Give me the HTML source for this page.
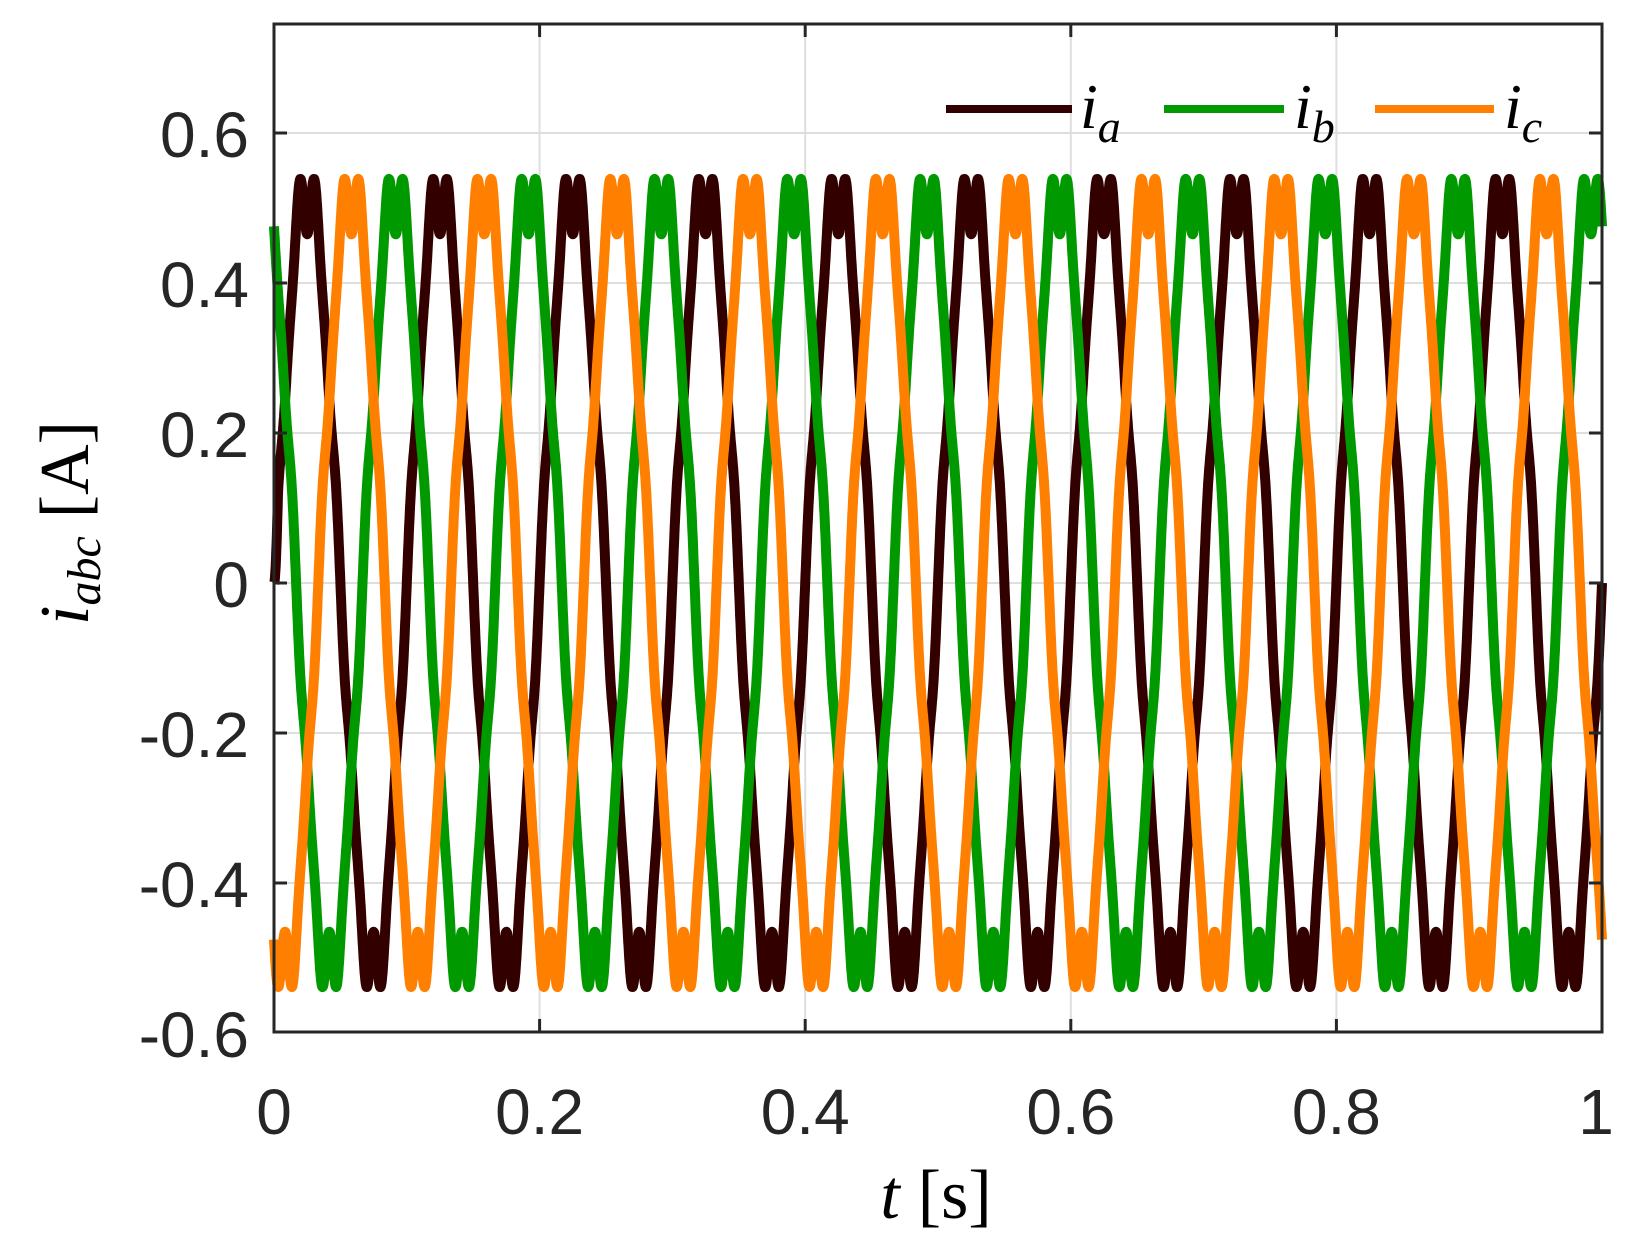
<!DOCTYPE html>
<html><head><meta charset="utf-8"><style>
body{margin:0;background:#fff}
svg{display:block}
.t{font-family:"Liberation Sans",sans-serif;font-size:64px;fill:#262626}
.m{font-family:"Liberation Serif",serif;font-style:italic;fill:#000}
.r{font-family:"Liberation Serif",serif;fill:#000}
</style></head><body>
<svg id="s" width="1631" height="1244" viewBox="0 0 1631 1244" xmlns="http://www.w3.org/2000/svg">
<g stroke="#dedede" stroke-width="2">
<line x1="539.6" y1="24" x2="539.6" y2="1033"/><line x1="805.2" y1="24" x2="805.2" y2="1033"/>
<line x1="1070.8" y1="24" x2="1070.8" y2="1033"/><line x1="1336.4" y1="24" x2="1336.4" y2="1033"/>
<line x1="274" y1="133" x2="1602" y2="133"/><line x1="274" y1="283" x2="1602" y2="283"/>
<line x1="274" y1="433" x2="1602" y2="433"/><line x1="274" y1="583" x2="1602" y2="583"/>
<line x1="274" y1="733" x2="1602" y2="733"/><line x1="274" y1="883" x2="1602" y2="883"/>
</g>
<g id="curves" fill="none" stroke-width="10" stroke-linejoin="round"></g>
<g stroke="#262626" stroke-width="3" fill="none">
<rect x="274" y="24" width="1328" height="1008"/>
</g>
<g stroke="#262626" stroke-width="3" id="ticks"></g>
<g class="t" text-anchor="end">
<text x="249" y="157">0.6</text><text x="249" y="307">0.4</text><text x="249" y="457">0.2</text>
<text x="249" y="607">0</text><text x="249" y="757">-0.2</text><text x="249" y="907">-0.4</text><text x="249" y="1057">-0.6</text>
</g>
<g class="t" text-anchor="middle">
<text x="274" y="1134">0</text><text x="539.6" y="1134">0.2</text><text x="805.2" y="1134">0.4</text>
<text x="1070.8" y="1134">0.6</text><text x="1336.4" y="1134">0.8</text><text x="1596" y="1134">1</text>
</g>
<text x="936" y="1218" text-anchor="middle" font-size="70"><tspan class="m">t</tspan><tspan class="r" dx="18">[s]</tspan></text>
<text transform="translate(88,523) rotate(-90)" text-anchor="middle" font-size="70"><tspan class="m">i</tspan><tspan class="m" font-size="48" dy="12">abc</tspan><tspan class="r" dy="-12" dx="18">[A]</tspan></text>
<g stroke-width="8">
<line x1="946" y1="109" x2="1072" y2="109" stroke="#330000"/>
<line x1="1164" y1="109" x2="1284" y2="109" stroke="#009900"/>
<line x1="1375" y1="109" x2="1494" y2="109" stroke="#ff8000"/>
</g>
<text class="m" x="1080" y="128" font-size="64">i<tspan font-size="46" dy="14">a</tspan></text>
<text class="m" x="1294" y="128" font-size="64">i<tspan font-size="46" dy="14">b</tspan></text>
<text class="m" x="1504" y="128" font-size="64">i<tspan font-size="46" dy="14">c</tspan></text>
</svg>
<script>
var L=274,R=1602;
function X(t){return L+t*(R-L);}
function Y(v){return 583-750*v;}
var cols=["#330000","#009900","#ff8000"],ph=[0,2*Math.PI/3,-2*Math.PI/3];
var g=document.getElementById("curves");
for(var k=0;k<3;k++){
 var d="";
 for(var i=0;i<=4000;i++){
  var t=i/4000,a=2*Math.PI*10*t+ph[k];
  var v=0.525*Math.sin(a)+0.045*Math.sin(7*a)*Math.abs(Math.sin(a))+0.015*Math.sin(11*a);
  if(k==0&&t<0.003)v=v*t/0.003;
  d+=(i?"L":"M")+X(t).toFixed(1)+" "+Y(v).toFixed(1);
 }
 var p=document.createElementNS("http://www.w3.org/2000/svg","path");
 p.setAttribute("d",d);p.setAttribute("stroke",cols[k]);g.appendChild(p);
}
var tk=document.getElementById("ticks"),h="";
[0.2,0.4,0.6,0.8].forEach(function(t){var x=X(t);h+='<line x1="'+x+'" y1="1032" x2="'+x+'" y2="1019"/><line x1="'+x+'" y1="24" x2="'+x+'" y2="37"/>';});
[133,283,433,583,733,883].forEach(function(y){h+='<line x1="274" y1="'+y+'" x2="287" y2="'+y+'"/><line x1="1602" y1="'+y+'" x2="1589" y2="'+y+'"/>';});
tk.innerHTML=h;
</script>
</body></html>
